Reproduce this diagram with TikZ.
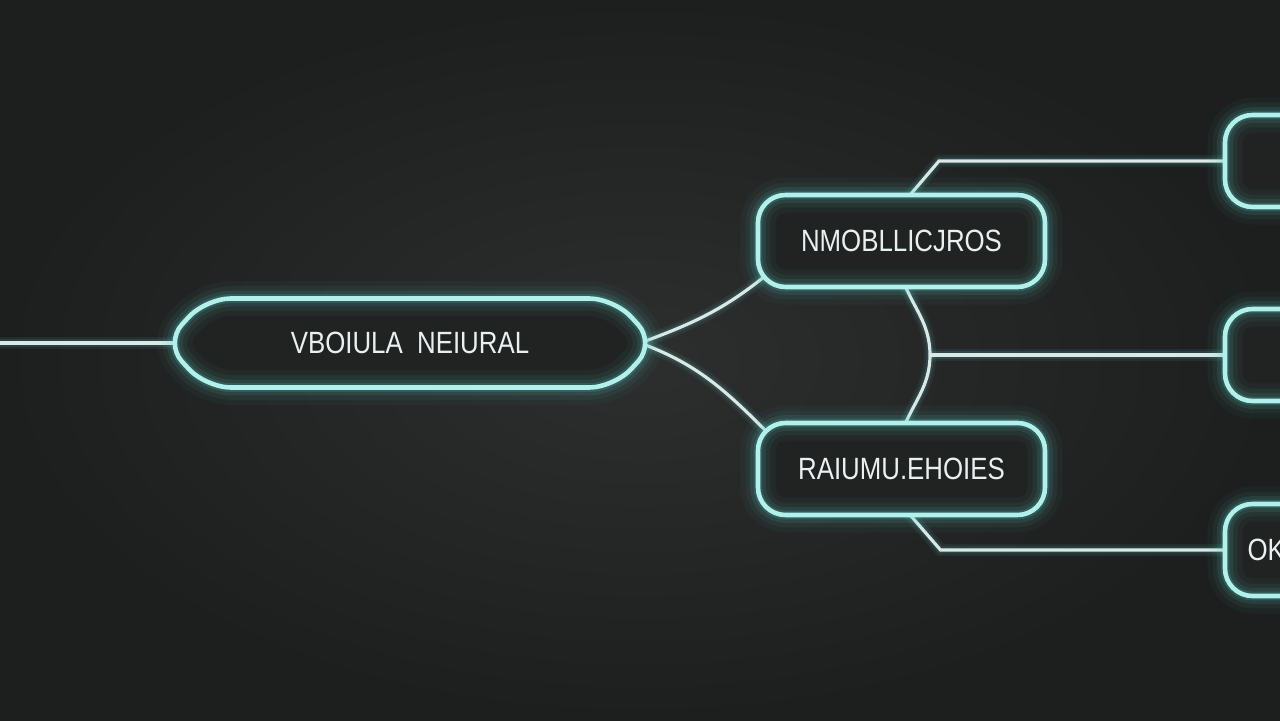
\documentclass[tikz,border=0pt]{standalone}
\usepackage{fontspec}
\newfontfamily\labelfont[FakeStretch=0.84]{Liberation Sans}
\usetikzlibrary{positioning, calc, shapes.symbols}
\definecolor{BgIn}{RGB}{45,46,46}
\definecolor{BgOut}{RGB}{29,30,30}
\definecolor{BoxFill}{RGB}{33,35,35}
\definecolor{NeonCore}{RGB}{222,255,251}
\definecolor{NeonGlow}{RGB}{90,215,205}
\definecolor{WireCol}{RGB}{220,232,232}
\definecolor{TextCol}{RGB}{234,240,240}
\pgfdeclarelayer{back}
\pgfdeclarelayer{wires}
\pgfsetlayers{back,wires,main}

\begin{document}
\begin{tikzpicture}[node distance = 0pt,
GlowStyle/.style={postaction={draw=NeonGlow, opacity=0.04, line width=20pt},
                  postaction={draw=NeonGlow, opacity=0.06, line width=14pt},
                  postaction={draw=NeonGlow, opacity=0.10, line width=9pt},
                  postaction={draw=NeonGlow, opacity=0.16, line width=5pt}},
BoxStyle/.style={GlowStyle, draw=NeonCore, line width=2.6pt, fill=BoxFill,
                rounded corners=0.55cm, minimum width=5.74cm, minimum height=1.84cm,
                font=\labelfont\fontsize{17.5}{20}\selectfont, text=TextCol,
                outer sep=0pt},
HubStyle/.style={BoxStyle, signal, signal to=east and west,
                signal pointer angle=95, rounded corners=0.5cm,
                minimum width=9.8cm, minimum height=1.78cm},
SideStyle/.style={BoxStyle, anchor=west, minimum width=2.4cm,
                text width=1.5cm, align=left},
WireStyle/.style={draw=WireCol, line width=1.8pt,
                preaction={draw=NeonGlow, opacity=0.08, line width=7pt},
                preaction={draw=NeonGlow, opacity=0.12, line width=4pt}},]
\useasboundingbox (0,0) rectangle (25.6,14.4);
\clip (0,0) rectangle (25.6,14.4);
\begin{pgfonlayer}{back}
\shade [inner color=BgIn, outer color=BgOut] (0,0) rectangle (25.6,14.4);
\end{pgfonlayer}

\node [HubStyle] (main) at (8.2,7.54) {VBOIULA\ \ NEIURAL};
\node [BoxStyle, above right=1.12cm and 2.06cm of main.east] (top) {NMOBLLICJROS};
\node [BoxStyle, below right=1.6cm and 2.06cm of main.east] (bot) {RAIUMU.EHOIES};
\node [SideStyle] (r1) at (24.5,11.18) {};
\node [SideStyle] (r2) at (24.5,7.3) {};
\node [SideStyle] (r3) at (24.5,3.4) {OK};
\coordinate (edge) at (0,7.54);
\coordinate (jn) at ($(top.south |- r2.west)+(0.57,0)$);

\begin{pgfonlayer}{wires}
\draw [WireStyle] (edge) -- (main.center);
\draw [WireStyle] ($(main.east)+(-0.3,0)$) to[out=20, in=220]
      ($(top.south west)+(0.3,0.35)$);
\draw [WireStyle] ($(main.east)+(-0.3,0)$) to[out=-20, in=135]
      ($(bot.north west)+(0.3,-0.3)$);
\draw [WireStyle] ($(top.north)+(0,-0.2)$) -- ($(top.north |- r1.west)+(0.75,0)$)
      -- ($(r1.west)+(0.2,0)$);
\draw [WireStyle] ($(top.south)+(0,0.2)$) to[out=-70, in=90] (jn)
      to[out=-90, in=70] ($(bot.north)+(0,-0.2)$);
\draw [WireStyle] (jn) -- ($(r2.west)+(0.2,0)$);
\draw [WireStyle] ($(bot.south)+(0,0.2)$) -- ($(bot.south |- r3.west)+(0.78,0)$)
      -- ($(r3.west)+(0.2,0)$);
\end{pgfonlayer}
\end{tikzpicture}
\end{document}
